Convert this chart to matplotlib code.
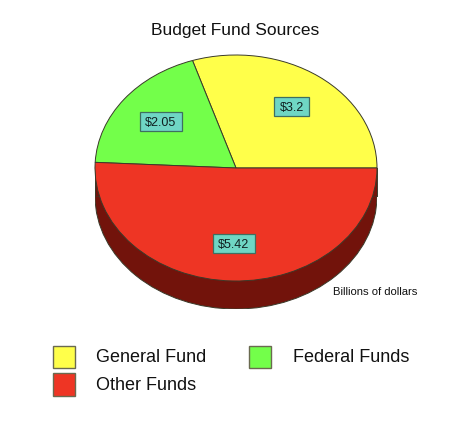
import numpy as np
import matplotlib
matplotlib.use("Agg")
import matplotlib.pyplot as plt
from matplotlib.patches import Wedge, Rectangle
from matplotlib.transforms import IdentityTransform

plt.rcParams['font.family'] = ['Liberation Sans', 'DejaVu Sans']

# -----------------------------
# Budget data, billions of dollars
sources = ["General Fund", "Federal Funds", "Other Funds"]
amounts = [3.2, 2.05, 5.42]
amount_labels = ["$3.2", "$2.05", "$5.42"]
colors = ["#FFFF4A", "#73FF4A", "#EE3524"]
side_color = "#72130B"
edge_color = "#3A3A2A"

W, H = 475, 422
fig = plt.figure(figsize=(W / 100, H / 100), dpi=100)

# pie axes: unit circle squashed into an ellipse, room below for the rim
depth = 28 / 113
left, right, top, bottom = 95, 377, 55, 309
ax = fig.add_axes([left / W, 1 - bottom / H, (right - left) / W, (bottom - top) / H])

wedges, _ = ax.pie(amounts, colors=colors, startangle=0, counterclock=True,
                   radius=1, frame=False,
                   wedgeprops=dict(edgecolor=edge_color, linewidth=0.7, zorder=3))
ax.set_aspect('auto')
ax.set_xlim(-1, 1)
ax.set_ylim(-1 - depth, 1)

# -----------------------------
# Rim of the disc under the front half
ax.add_patch(Wedge((0, -depth), 1, 180, 360, facecolor=side_color,
                   edgecolor=edge_color, linewidth=0.7, zorder=1))
ax.add_patch(Rectangle((-1, -depth), 2, depth, facecolor=side_color,
                       edgecolor='none', zorder=1))
ax.plot([-1, -1], [0, -depth], color=edge_color, lw=0.7, zorder=2, clip_on=False)
ax.plot([1, 1], [0, -depth], color=edge_color, lw=0.7, zorder=2, clip_on=False)

# -----------------------------
# Value boxes at the middle of each slice, box sized in pixels around the text
fractions = np.cumsum([0] + amounts) / sum(amounts)
renderer = fig.canvas.get_renderer()
for i, label in enumerate(amount_labels):
    mid = np.deg2rad(180 * (fractions[i] + fractions[i + 1]))
    pos = (0.67 * np.cos(mid), 0.67 * np.sin(mid))
    t = ax.text(pos[0], pos[1], label, ha='center', va='center_baseline',
                fontsize=9, color='#102020', zorder=6)
    cx, cy = ax.transData.transform(pos)
    box_w = t.get_window_extent(renderer).width + 11
    ax.add_patch(Rectangle((cx - box_w / 2, cy - 9.5), box_w, 19, transform=IdentityTransform(),
                           facecolor='#6FD6C4', edgecolor='#3F6F60', linewidth=0.9, zorder=5))

fig.text(235.5 / W, 1 - 30 / H, "Budget Fund Sources", ha='center', va='center',
         fontsize=12.5, color='#111111')
fig.text(333 / W, 1 - 292 / H, "Billions of dollars", ha='left', va='center',
         fontsize=8.1, color='#111111')

# -----------------------------
# Legend, filled column by column
order = [0, 2, 1]
leg = fig.legend([wedges[i] for i in order], [sources[i] for i in order],
                 ncols=2, loc='upper left', bbox_to_anchor=(53 / W, 1 - 345.5 / H),
                 borderaxespad=0, borderpad=0, frameon=False, fontsize=13,
                 handlelength=1.22, handleheight=1.5, handletextpad=1.17,
                 labelspacing=0.33, columnspacing=2.38, labelcolor='#111111')
for h in leg.legend_handles:
    h.set_edgecolor('#6A6A50')
    h.set_linewidth(1.0)

fig.savefig("out.png", dpi=100)
